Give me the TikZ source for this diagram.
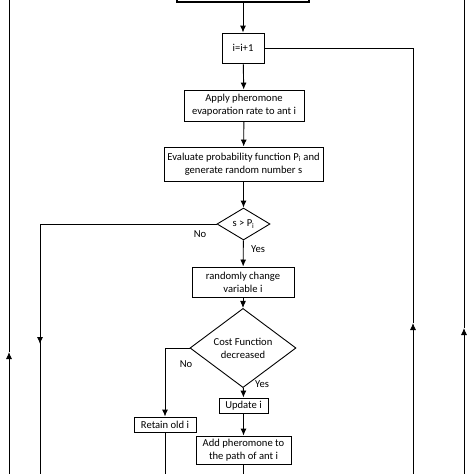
\documentclass[tikz,border=0pt]{standalone}
\usepackage{fontspec}
\setmainfont{Carlito}
\usetikzlibrary{arrows.meta,shapes.geometric}
\begin{document}
\begin{tikzpicture}[x=1pt,y=-1pt,line width=0.9pt,
  txt/.style={font=\fontsize{10.6}{13}\selectfont},
  box/.style={draw,rectangle,inner sep=0pt,align=center,txt},
  dec/.style={draw,diamond,inner sep=0pt,align=center,txt},
  arr/.style={-{Latex[length=7pt,width=6pt]}},
  lbl/.style={txt}]
\useasboundingbox (0,0) rectangle (474,474);
\clip (0,0) rectangle (474,474);
\fill[white] (0,0) rectangle (474,474);
\node[box,minimum width=132pt,minimum height=24pt,line width=1.5pt] (top) at (243,-10) {};
\node[box,minimum width=42pt,minimum height=30pt] (inc) at (243,48) {i=i+1};
\node[box,minimum width=120pt,minimum height=31pt] (apply) at (244,105.5) {Apply pheromone\\evaporation rate to ant i};
\node[box,minimum width=159pt,minimum height=34pt] (eval) at (243.5,164) {Evaluate probability function P\textsubscript{i} and\\generate random number s};
\node[dec,minimum width=53pt,minimum height=32pt] (d1) at (243.5,224) {s > P\textsubscript{i}};
\node[box,minimum width=102pt,minimum height=30pt] (rand) at (243,282) {randomly change\\variable i};
\node[dec,minimum width=106pt,minimum height=46pt] (d2) at (243,348) {Cost Function\\decreased};
\node[box,minimum width=49pt,minimum height=15pt] (upd) at (243.5,405.5) {Update i};
\node[box,minimum width=62pt,minimum height=15pt] (ret) at (165,424.5) {Retain old i};
\node[box,minimum width=95pt,minimum height=28pt] (add) at (243.5,450) {Add pheromone to\\the path of ant i};
\node[lbl] (no1) at (200,234) {No};
\node[lbl] (yes1) at (258,249) {Yes};
\node[lbl] (no2) at (186,364) {No};
\node[lbl] (yes2) at (262,384) {Yes};
\coordinate (b9) at (9,480); \coordinate (m9) at (9,352); \coordinate (t9) at (9,-6);
\coordinate (b464) at (464,480); \coordinate (m464) at (464,328); \coordinate (t464) at (464,-6);
\coordinate (b413) at (413,480); \coordinate (m413) at (413,323); \coordinate (c413) at (413,48);
\coordinate (c40) at (40,224); \coordinate (m40) at (40,344); \coordinate (b40) at (40,480);
\coordinate (c165) at (165,348); \coordinate (b165) at (165,480);
\coordinate (b243) at (243.5,480);
\draw[arr] (top) -- (inc);
\draw[arr] (inc) -- (apply);
\draw[arr] (apply) -- (eval);
\draw[arr] (eval) -- (d1);
\draw[arr] (d1) -- (rand);
\draw[arr] (rand) -- (d2);
\draw[arr] (d2) -- (upd);
\draw[arr] (upd) -- (add);
\draw (d1.west) -- (c40) -- (m40);
\draw[arr] (c40) -- (m40);
\draw (m40) -- (b40);
\draw[arr] (d2.west) -- (c165) -- (ret.north);
\draw (ret) -- (b165);
\draw (add) -- (b243);
\draw (inc.east) -- (c413) -- (m413);
\draw[arr] (b413) -- (m413);
\draw[arr] (b9) -- (m9);
\draw (m9) -- (t9);
\draw[arr] (b464) -- (m464);
\draw (m464) -- (t464);
\end{tikzpicture}
\end{document}
